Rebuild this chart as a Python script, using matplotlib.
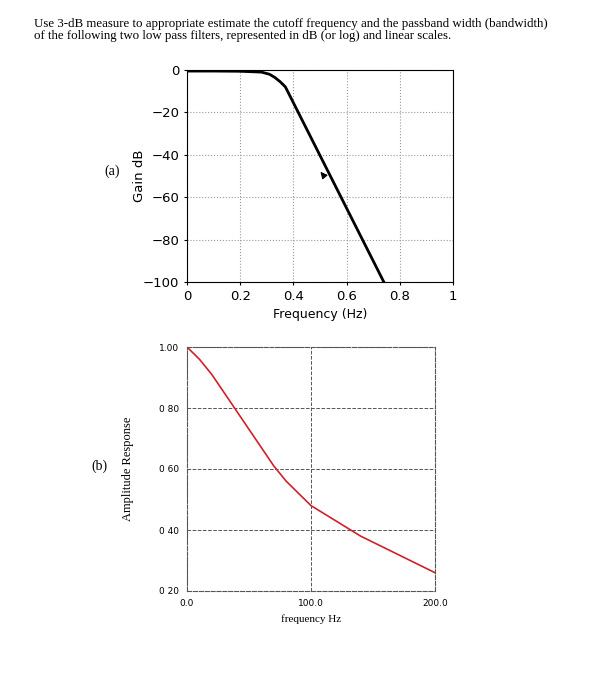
import matplotlib
matplotlib.use("Agg")
import matplotlib.pyplot as plt
import numpy as np

# (a) Gain dB
fa = [0.0, 0.1, 0.2, 0.28, 0.31, 0.33, 0.35, 0.37, 0.74]
ga = [-0.5, -0.5, -0.6, -1.0, -2.0, -3.5, -5.5, -8.0, -100]
xticks_a = [0, 0.2, 0.4, 0.6, 0.8, 1]
xtl_a = ["0", "0.2", "0.4", "0.6", "0.8", "1"]
yticks_a = [0, -20, -40, -60, -80, -100]
ytl_a = ["0", "\u221220", "\u221240", "\u221260", "\u221280", "\u2212100"]

# (b) Amplitude response
fb = [0, 10, 20, 30, 40, 50, 60, 70, 80, 90, 100, 120, 140, 160, 180, 200]
ab = [1.0, 0.96, 0.91, 0.85, 0.79, 0.73, 0.67, 0.61, 0.56, 0.52, 0.48, 0.43, 0.38, 0.34, 0.30, 0.26]
xticks_b = [0, 100, 200]
xtl_b = ["0.0", "100.0", "200.0"]
yticks_b = [0.2, 0.4, 0.6, 0.8, 1.0]
ytl_b = ["0 20", "0 40", "0 60", "0 80", "1.00"]

fig = plt.figure(figsize=(6.12, 7.0), dpi=100)
fig.patch.set_facecolor("white")
fig.text(0.055, 0.975, "Use 3-dB measure to appropriate estimate the cutoff frequency and the passband width (bandwidth)\nof the following two low pass filters, represented in dB (or log) and linear scales.",
         family="Liberation Serif", fontsize=9.3, va="top", linespacing=1.1)

ax1 = fig.add_axes([187/612, 1-282/700, 266/612, 212/700])
ax1.plot(fa, ga, color="black", lw=2)
ax1.set_xlim(0, 1); ax1.set_ylim(-100, 0)
ax1.set_xticks(xticks_a, xtl_a); ax1.set_yticks(yticks_a, ytl_a)
ax1.grid(True, ls=":", color="#999999", lw=0.8)
ax1.set_xlabel("Frequency (Hz)", fontsize=9)
ax1.set_ylabel("Gain dB", fontsize=9.5, labelpad=-2)
ax1.tick_params(labelsize=9.5, length=2)
ax1.annotate("", xy=(0.495, -47), xytext=(0.515, -50), arrowprops=dict(arrowstyle="-|>", color="black", lw=0.8))
fig.text(0.17, 1-175/700, "(a)", family="Liberation Serif", fontsize=10)

ax2 = fig.add_axes([187/612, 1-591/700, 248/612, 244/700])
ax2.plot(fb, ab, color="#d0202a", lw=1.2)
ax2.set_xlim(0, 200); ax2.set_ylim(0.2, 1.0)
ax2.set_xticks(xticks_b, xtl_b); ax2.set_yticks(yticks_b, ytl_b)
ax2.grid(True, ls="--", color="#555555", lw=0.7)
for s in ax2.spines.values():
    s.set_linestyle("--"); s.set_color("#555555")
ax2.set_xlabel("frequency Hz", family="Liberation Serif", fontsize=8)
ax2.set_ylabel("Amplitude Response", family="Liberation Serif", fontsize=9, labelpad=18)
ax2.tick_params(labelsize=6.5, length=0, pad=6)
fig.text(0.15, 1-470/700, "(b)", family="Liberation Serif", fontsize=10)

fig.savefig("out.png", dpi=100)
